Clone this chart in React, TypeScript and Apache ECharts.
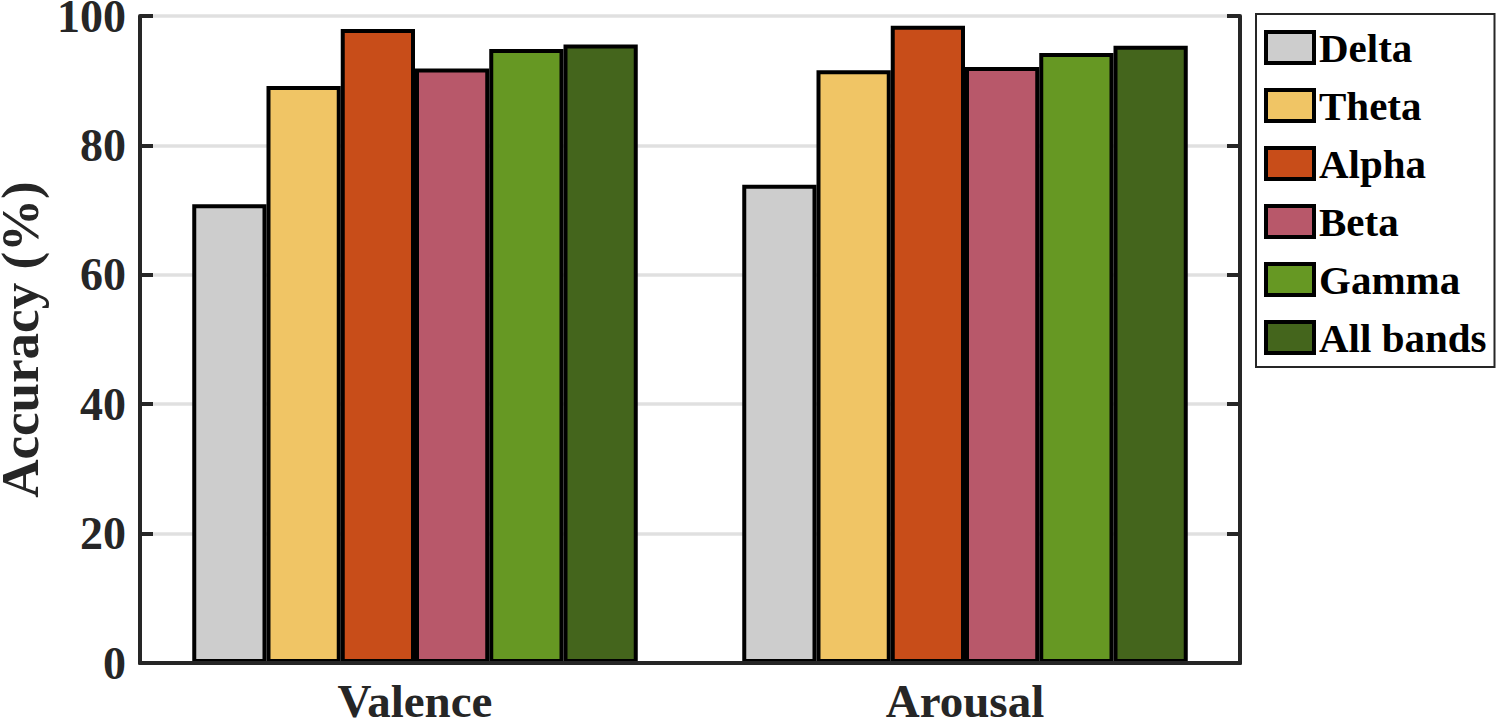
import { useEffect, useRef } from "react";
import * as echarts from "echarts";

// Data
const CATEGORIES = ["Valence", "Arousal"];
const BANDS = ["Delta", "Theta", "Alpha", "Beta", "Gamma", "All bands"];
const DELTA = [70.9, 73.9];
const THETA = [89.2, 91.6];
const ALPHA = [98.0, 98.5];
const BETA = [91.9, 92.1];
const GAMMA = [94.9, 94.3];
const ALL_BANDS = [95.6, 95.4];
const Y_TICKS = [0, 20, 40, 60, 80, 100];

const VALUES = [DELTA, THETA, ALPHA, BETA, GAMMA, ALL_BANDS];
const COLORS = ["#cdcdcd", "#f0c565", "#c84d19", "#b8586a", "#669823", "#44651c"];

const FONT = "Liberation Serif";
const INK = "#262626";

function buildOption() {
  const yBase = {
    type: "value",
    min: Y_TICKS[0],
    max: Y_TICKS[Y_TICKS.length - 1],
    interval: Y_TICKS[1] - Y_TICKS[0],
  };
  return {
    animation: false,
    grid: { left: 140, top: 16, right: 256, bottom: 61, containLabel: false, outerBoundsMode: "none" },
    legend: {
      orient: "vertical",
      left: 1256,
      top: 14,
      padding: [13, 8, 9, 8],
      itemWidth: 48,
      itemHeight: 31,
      itemGap: 17,
      itemTextGap: 6,
      icon: "rect",
      borderColor: INK,
      borderWidth: 2,
      backgroundColor: "#fff",
      itemStyle: { borderColor: "#000", borderWidth: 4 },
      textStyle: { fontFamily: FONT, fontWeight: "bold", fontSize: 41, lineHeight: 31, color: "#000" },
      data: BANDS,
    },
    xAxis: [
      {
        type: "category",
        data: CATEGORIES,
        position: "bottom",
        z: 3,
        axisLine: { lineStyle: { color: INK, width: 4 } },
        axisTick: { show: false },
        axisLabel: { fontFamily: FONT, fontWeight: "bold", fontSize: 47, lineHeight: 36, color: INK, margin: 20 },
      },
      {
        type: "category",
        data: CATEGORIES,
        position: "top",
        z: 3,
        axisLine: { lineStyle: { color: INK, width: 4 } },
        axisTick: { inside: true, alignWithLabel: true, length: 14, lineStyle: { color: INK, width: 4 } },
        axisLabel: { show: false },
      },
    ],
    yAxis: [
      {
        ...yBase,
        position: "left",
        name: "Accuracy (%)",
        nameLocation: "middle",
        nameGap: 87,
        nameTextStyle: { fontFamily: FONT, fontWeight: "bold", fontSize: 53, lineHeight: 46, color: INK },
        axisLine: { show: true, lineStyle: { color: INK, width: 4 } },
        axisTick: { show: true, inside: true, length: 13, lineStyle: { color: INK, width: 4 } },
        axisLabel: { fontFamily: FONT, fontWeight: "bold", fontSize: 46, lineHeight: 32, color: INK, margin: 14 },
        splitLine: { show: true, lineStyle: { color: "#e0e0e0", width: 3.5 } },
      },
      {
        ...yBase,
        position: "right",
        axisLine: { show: true, lineStyle: { color: INK, width: 4 } },
        axisTick: { show: true, inside: true, length: 13, lineStyle: { color: INK, width: 4 } },
        axisLabel: { show: false },
        splitLine: { show: false },
      },
    ],
    series: BANDS.map((name, i) => ({
      name,
      type: "bar",
      xAxisIndex: 0,
      yAxisIndex: 0,
      barGap: "0%",
      barCategoryGap: "19%",
      itemStyle: { color: COLORS[i], borderColor: "#000", borderWidth: 4 },
      data: VALUES[i],
    })),
  };
}

export default function App() {
  const ref = useRef<HTMLDivElement>(null);
  useEffect(() => {
    if (!ref.current) return;
    const chart = echarts.init(ref.current, undefined, { renderer: "svg" });
    chart.setOption(buildOption());
    return () => chart.dispose();
  }, []);
  return (
    <div
      ref={ref}
      style={{ position: "fixed", left: 0, top: 0, width: 1496, height: 724, background: "#fff" }}
    />
  );
}
